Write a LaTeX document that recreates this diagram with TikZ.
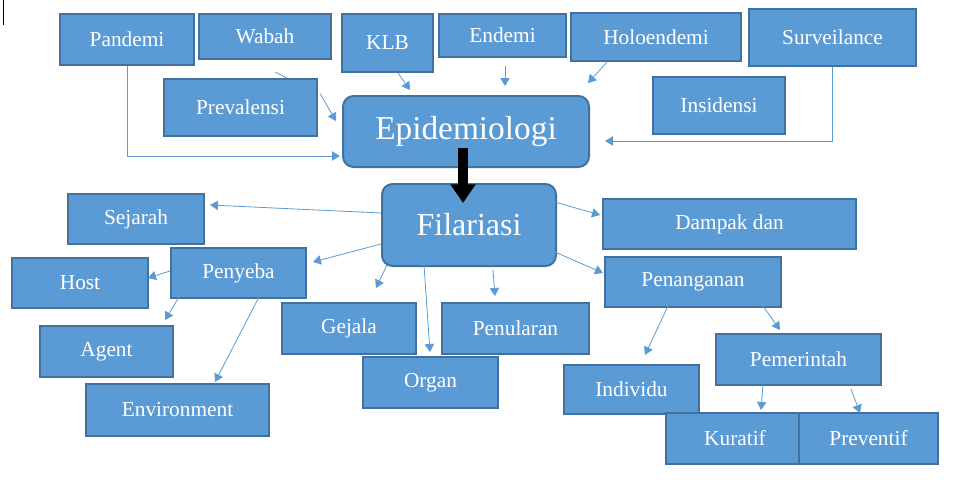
\documentclass[tikz,border=0pt]{standalone}
\usepackage{fontspec}
\setmainfont{Liberation Serif}
\usetikzlibrary{arrows.meta}
\definecolor{bfill}{HTML}{5B9BD5}
\definecolor{bdraw}{HTML}{41719C}
\begin{document}
\begin{tikzpicture}[x=0.75pt,y=-0.75pt,
 box/.style={draw=bdraw,line width=1.5pt,fill=bfill,text=white,font=\fontsize{16}{18}\selectfont,inner sep=0pt},
 con/.style={draw=bfill,line width=0.6pt,-{Triangle[width=7pt,length=6pt]}}]
\useasboundingbox (0,0) rectangle (953,493);
\fill[white] (0,0) rectangle (953,493);
\newcommand{\bx}[6]{\node[box,minimum width={(#4-#2)*0.75pt},minimum height={(#5-#3)*0.75pt},anchor=north west] (#1) at (#2,#3) {#6};}
\bx{pandemi}{59}{13}{193}{64}{Pandemi}
\bx{wabah}{198}{13}{330}{58}{Wabah}
\bx{klb}{341}{13}{432}{71}{KLB}
\bx{endemi}{438}{13}{565}{56}{Endemi}
\bx{holo}{570}{12}{740}{60}{Holoendemi}
\bx{surv}{748}{8}{915}{65}{Surveilance}
\bx{prev}{163}{78}{316}{135}{Prevalensi}
\bx{insid}{652}{76}{784}{133}{Insidensi}
\node[box,rounded corners=8pt,minimum width={246*0.75pt},minimum height={71*0.75pt},anchor=north west,font=\fontsize{25}{28}\selectfont] (epi) at (342,95) {Epidemiologi};
\node[box,rounded corners=8pt,minimum width={174*0.75pt},minimum height={82*0.75pt},anchor=north west,font=\fontsize{24}{28}\selectfont] (fil) at (381,183) {Filariasi};
\bx{sej}{67}{193}{203}{243}{Sejarah}
\bx{damp}{602}{198}{855}{248}{Dampak dan}
\bx{host}{11}{257}{147}{307}{Host}
\bx{peny}{170}{247}{305}{297}{Penyeba}
\bx{penan}{604}{256}{780}{306}{Penanganan}
\bx{gej}{281}{302}{415}{353}{Gejala}
\bx{penul}{441}{302}{588}{353}{Penularan}
\bx{agent}{39}{325}{172}{376}{Agent}
\bx{organ}{362}{356}{497}{407}{Organ}
\bx{indiv}{563}{364}{698}{413}{Individu}
\bx{pem}{715}{333}{880}{384}{Pemerintah}
\bx{env}{85}{383}{268}{435}{Environment}
\bx{kur}{665}{412}{803}{463}{Kuratif}
\bx{prevt}{798}{412}{937}{463}{Preventif}
\draw[black,line width=0.6pt] (3,0) -- (3,25);
\coordinate (w1) at (275,72); \coordinate (w2) at (287,78);
\draw[bfill,line width=0.6pt] (w1) -- (w2);
\draw[con] (pandemi.south) |- (340,156);
\draw[con] (398,73) -- (410,90);
\draw[con] (505,66) -- (505,86);
\draw[con] (607,62) -- (588,83);
\draw[con] (prev.east) ++(2,-14) -- (336,121);
\draw[con] (surv.south) |- (605,141);
\draw[line width=7pt,black,-{Triangle[width=18pt,length=14pt]}] (463,148) -- (463,203);
\draw[con] (fil.west) ++(0,-12) -- (210,205);
\draw[con] (381,244) -- (313,262);
\draw[con] (387,265) -- (376,288);
\draw[con] (424,265) -- (430,352);
\draw[con] (493,270) -- (495,296);
\draw[con] (555,202) -- (600,215);
\draw[con] (555,252) -- (603,273);
\draw[con] (170,271) -- (148,278);
\draw[con] (179,297) -- (165,320);
\draw[con] (259,297) -- (215,382);
\draw[con] (668,306) -- (645,355);
\draw[con] (763,306) -- (780,330);
\draw[con] (763,384) -- (761,410);
\draw[con] (851,389) -- (860,413);
\end{tikzpicture}
\end{document}
